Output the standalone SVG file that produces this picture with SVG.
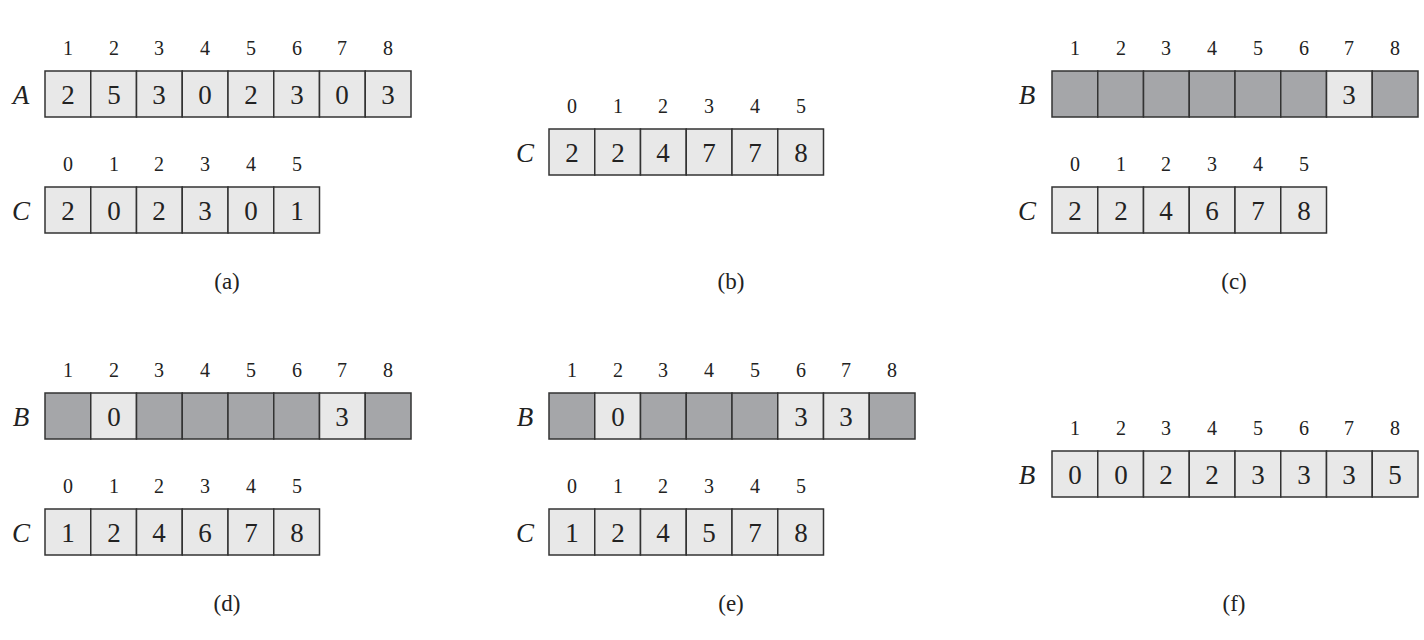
<svg xmlns="http://www.w3.org/2000/svg" width="1424" height="640" viewBox="0 0 1424 640">
<style>
text{font-family:"Liberation Serif","Times New Roman",serif;fill:#222;text-anchor:middle}
.l{fill:#e8e8e8;stroke:#333;stroke-width:1.5}
.d{fill:#a5a6a9;stroke:#333;stroke-width:1.5}
.v{font-size:27px}
.i{font-size:20px}
.n{font-size:27px;font-style:italic}
.c{font-size:23px}
</style>
<rect width="1424" height="640" fill="#fff"/>
<g id="a">
<g class="i"><text x="68" y="55">1</text><text x="114" y="55">2</text><text x="159" y="55">3</text><text x="205" y="55">4</text><text x="251" y="55">5</text><text x="297" y="55">6</text><text x="342" y="55">7</text><text x="388" y="55">8</text></g>
<text class="n" x="21" y="104">A</text>
<rect class="l" x="45" y="71" width="45.75" height="46"/><rect class="l" x="90.75" y="71" width="45.75" height="46"/><rect class="l" x="136.5" y="71" width="45.75" height="46"/><rect class="l" x="182.25" y="71" width="45.75" height="46"/><rect class="l" x="228" y="71" width="45.75" height="46"/><rect class="l" x="273.75" y="71" width="45.75" height="46"/><rect class="l" x="319.5" y="71" width="45.75" height="46"/><rect class="l" x="365.25" y="71" width="45.75" height="46"/>
<g class="v"><text x="68" y="104">2</text><text x="114" y="104">5</text><text x="159" y="104">3</text><text x="205" y="104">0</text><text x="251" y="104">2</text><text x="297" y="104">3</text><text x="342" y="104">0</text><text x="388" y="104">3</text></g>
<g class="i"><text x="68" y="171">0</text><text x="114" y="171">1</text><text x="159" y="171">2</text><text x="205" y="171">3</text><text x="251" y="171">4</text><text x="297" y="171">5</text></g>
<text class="n" x="21" y="220">C</text>
<rect class="l" x="45" y="187" width="45.75" height="46"/><rect class="l" x="90.75" y="187" width="45.75" height="46"/><rect class="l" x="136.5" y="187" width="45.75" height="46"/><rect class="l" x="182.25" y="187" width="45.75" height="46"/><rect class="l" x="228" y="187" width="45.75" height="46"/><rect class="l" x="273.75" y="187" width="45.75" height="46"/>
<g class="v"><text x="68" y="220">2</text><text x="114" y="220">0</text><text x="159" y="220">2</text><text x="205" y="220">3</text><text x="251" y="220">0</text><text x="297" y="220">1</text></g>
<text class="c" x="227" y="289">(a)</text>
</g>
<g id="b">
<g class="i"><text x="572" y="113">0</text><text x="618" y="113">1</text><text x="663" y="113">2</text><text x="709" y="113">3</text><text x="755" y="113">4</text><text x="801" y="113">5</text></g>
<text class="n" x="525" y="162">C</text>
<rect class="l" x="549" y="129" width="45.75" height="46"/><rect class="l" x="594.75" y="129" width="45.75" height="46"/><rect class="l" x="640.5" y="129" width="45.75" height="46"/><rect class="l" x="686.25" y="129" width="45.75" height="46"/><rect class="l" x="732" y="129" width="45.75" height="46"/><rect class="l" x="777.75" y="129" width="45.75" height="46"/>
<g class="v"><text x="572" y="162">2</text><text x="618" y="162">2</text><text x="663" y="162">4</text><text x="709" y="162">7</text><text x="755" y="162">7</text><text x="801" y="162">8</text></g>
<text class="c" x="731" y="289">(b)</text>
</g>
<g id="c">
<g class="i"><text x="1075" y="55">1</text><text x="1121" y="55">2</text><text x="1166" y="55">3</text><text x="1212" y="55">4</text><text x="1258" y="55">5</text><text x="1304" y="55">6</text><text x="1349" y="55">7</text><text x="1395" y="55">8</text></g>
<text class="n" x="1027" y="104">B</text>
<rect class="d" x="1052" y="71" width="45.75" height="46"/><rect class="d" x="1097.75" y="71" width="45.75" height="46"/><rect class="d" x="1143.5" y="71" width="45.75" height="46"/><rect class="d" x="1189.25" y="71" width="45.75" height="46"/><rect class="d" x="1235" y="71" width="45.75" height="46"/><rect class="d" x="1280.75" y="71" width="45.75" height="46"/><rect class="l" x="1326.5" y="71" width="45.75" height="46"/><rect class="d" x="1372.25" y="71" width="45.75" height="46"/>
<text class="v" x="1349" y="104">3</text>
<g class="i"><text x="1075" y="171">0</text><text x="1121" y="171">1</text><text x="1166" y="171">2</text><text x="1212" y="171">3</text><text x="1258" y="171">4</text><text x="1304" y="171">5</text></g>
<text class="n" x="1027" y="220">C</text>
<rect class="l" x="1052" y="187" width="45.75" height="46"/><rect class="l" x="1097.75" y="187" width="45.75" height="46"/><rect class="l" x="1143.5" y="187" width="45.75" height="46"/><rect class="l" x="1189.25" y="187" width="45.75" height="46"/><rect class="l" x="1235" y="187" width="45.75" height="46"/><rect class="l" x="1280.75" y="187" width="45.75" height="46"/>
<g class="v"><text x="1075" y="220">2</text><text x="1121" y="220">2</text><text x="1166" y="220">4</text><text x="1212" y="220">6</text><text x="1258" y="220">7</text><text x="1304" y="220">8</text></g>
<text class="c" x="1234" y="289">(c)</text>
</g>
<g id="d">
<g class="i"><text x="68" y="377">1</text><text x="114" y="377">2</text><text x="159" y="377">3</text><text x="205" y="377">4</text><text x="251" y="377">5</text><text x="297" y="377">6</text><text x="342" y="377">7</text><text x="388" y="377">8</text></g>
<text class="n" x="21" y="426">B</text>
<rect class="d" x="45" y="393" width="45.75" height="46"/><rect class="l" x="90.75" y="393" width="45.75" height="46"/><rect class="d" x="136.5" y="393" width="45.75" height="46"/><rect class="d" x="182.25" y="393" width="45.75" height="46"/><rect class="d" x="228" y="393" width="45.75" height="46"/><rect class="d" x="273.75" y="393" width="45.75" height="46"/><rect class="l" x="319.5" y="393" width="45.75" height="46"/><rect class="d" x="365.25" y="393" width="45.75" height="46"/>
<g class="v"><text x="114" y="426">0</text><text x="342" y="426">3</text></g>
<g class="i"><text x="68" y="493">0</text><text x="114" y="493">1</text><text x="159" y="493">2</text><text x="205" y="493">3</text><text x="251" y="493">4</text><text x="297" y="493">5</text></g>
<text class="n" x="21" y="542">C</text>
<rect class="l" x="45" y="509" width="45.75" height="46"/><rect class="l" x="90.75" y="509" width="45.75" height="46"/><rect class="l" x="136.5" y="509" width="45.75" height="46"/><rect class="l" x="182.25" y="509" width="45.75" height="46"/><rect class="l" x="228" y="509" width="45.75" height="46"/><rect class="l" x="273.75" y="509" width="45.75" height="46"/>
<g class="v"><text x="68" y="542">1</text><text x="114" y="542">2</text><text x="159" y="542">4</text><text x="205" y="542">6</text><text x="251" y="542">7</text><text x="297" y="542">8</text></g>
<text class="c" x="227" y="611">(d)</text>
</g>
<g id="e">
<g class="i"><text x="572" y="377">1</text><text x="618" y="377">2</text><text x="663" y="377">3</text><text x="709" y="377">4</text><text x="755" y="377">5</text><text x="801" y="377">6</text><text x="846" y="377">7</text><text x="892" y="377">8</text></g>
<text class="n" x="525" y="426">B</text>
<rect class="d" x="549" y="393" width="45.75" height="46"/><rect class="l" x="594.75" y="393" width="45.75" height="46"/><rect class="d" x="640.5" y="393" width="45.75" height="46"/><rect class="d" x="686.25" y="393" width="45.75" height="46"/><rect class="d" x="732" y="393" width="45.75" height="46"/><rect class="l" x="777.75" y="393" width="45.75" height="46"/><rect class="l" x="823.5" y="393" width="45.75" height="46"/><rect class="d" x="869.25" y="393" width="45.75" height="46"/>
<g class="v"><text x="618" y="426">0</text><text x="801" y="426">3</text><text x="846" y="426">3</text></g>
<g class="i"><text x="572" y="493">0</text><text x="618" y="493">1</text><text x="663" y="493">2</text><text x="709" y="493">3</text><text x="755" y="493">4</text><text x="801" y="493">5</text></g>
<text class="n" x="525" y="542">C</text>
<rect class="l" x="549" y="509" width="45.75" height="46"/><rect class="l" x="594.75" y="509" width="45.75" height="46"/><rect class="l" x="640.5" y="509" width="45.75" height="46"/><rect class="l" x="686.25" y="509" width="45.75" height="46"/><rect class="l" x="732" y="509" width="45.75" height="46"/><rect class="l" x="777.75" y="509" width="45.75" height="46"/>
<g class="v"><text x="572" y="542">1</text><text x="618" y="542">2</text><text x="663" y="542">4</text><text x="709" y="542">5</text><text x="755" y="542">7</text><text x="801" y="542">8</text></g>
<text class="c" x="731" y="611">(e)</text>
</g>
<g id="f">
<g class="i"><text x="1075" y="435">1</text><text x="1121" y="435">2</text><text x="1166" y="435">3</text><text x="1212" y="435">4</text><text x="1258" y="435">5</text><text x="1304" y="435">6</text><text x="1349" y="435">7</text><text x="1395" y="435">8</text></g>
<text class="n" x="1027" y="484">B</text>
<rect class="l" x="1052" y="451" width="45.75" height="46"/><rect class="l" x="1097.75" y="451" width="45.75" height="46"/><rect class="l" x="1143.5" y="451" width="45.75" height="46"/><rect class="l" x="1189.25" y="451" width="45.75" height="46"/><rect class="l" x="1235" y="451" width="45.75" height="46"/><rect class="l" x="1280.75" y="451" width="45.75" height="46"/><rect class="l" x="1326.5" y="451" width="45.75" height="46"/><rect class="l" x="1372.25" y="451" width="45.75" height="46"/>
<g class="v"><text x="1075" y="484">0</text><text x="1121" y="484">0</text><text x="1166" y="484">2</text><text x="1212" y="484">2</text><text x="1258" y="484">3</text><text x="1304" y="484">3</text><text x="1349" y="484">3</text><text x="1395" y="484">5</text></g>
<text class="c" x="1234" y="611">(f)</text>
</g>
<g id="connectors"/>
</svg>
